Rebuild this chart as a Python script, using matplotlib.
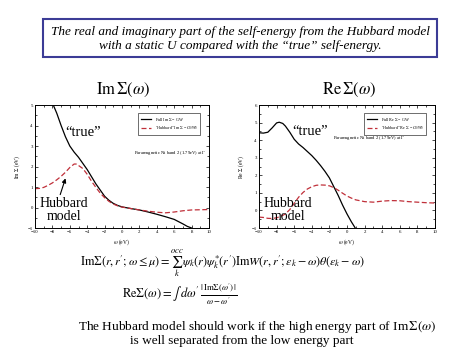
import matplotlib
matplotlib.use("Agg")
import matplotlib.pyplot as plt
from matplotlib.patches import Rectangle
from matplotlib.ticker import MultipleLocator

plt.rcParams['font.family'] = ['Liberation Serif', 'DejaVu Serif']
plt.rcParams['mathtext.fontset'] = 'stix'

# Im Sigma data (eV)
im_true_w = [-7.9, -7.5, -7.0, -6.5, -6.0, -5.5, -5.0, -4.5, -4.0, -3.5, -3.0, -2.5,
             -2.0, -1.5, -1.0, -0.5, 0.0, 1.0, 2.0, 3.0, 4.0, 5.0, 6.0, 7.0, 7.5, 8.0]
im_true = [5.0, 4.6, 4.0, 3.45, 3.0, 2.7, 2.45, 2.15, 1.85, 1.5, 1.15, 0.85,
           0.55, 0.35, 0.2, 0.1, 0.03, -0.05, -0.12, -0.22, -0.33, -0.45, -0.58, -0.8, -0.92, -1.0]
im_hub_w = [-10, -9.5, -9, -8.5, -8, -7.5, -7, -6.5, -6, -5.5, -5.2, -5, -4.5, -4, -3.5, -3,
            -2.5, -2, -1.5, -1, -0.5, 0, 1, 2, 3, 4, 5, 6, 7, 8, 9, 10]
im_hub = [0.92, 0.93, 0.98, 1.08, 1.2, 1.35, 1.52, 1.72, 1.95, 2.12, 2.12, 2.05, 1.9, 1.62, 1.28, 0.98,
          0.7, 0.48, 0.3, 0.17, 0.08, 0.02, -0.05, -0.12, -0.18, -0.23, -0.26, -0.22, -0.16, -0.12, -0.11, -0.1]

# Re Sigma data (eV)
re_true_w = [-10, -9.5, -9, -8.5, -8, -7.7, -7.3, -7, -6.5, -6, -5.5, -5, -4.5, -4, -3.5, -3,
             -2.5, -2, -1.5, -1, -0.5, 0, 0.5, 1.0]
re_true = [4.42, 4.4, 4.45, 4.7, 4.98, 5.02, 4.95, 4.8, 4.45, 4.05, 3.78, 3.58, 3.35, 3.12, 2.85, 2.55,
           2.22, 1.85, 1.35, 0.85, 0.3, -0.2, -0.65, -1.05]
re_hub_w = [-10, -9.5, -9, -8.5, -8, -7.5, -7, -6.5, -6, -5.5, -5, -4.5, -4, -3.5, -3, -2.5, -2,
            -1.5, -1, -0.5, 0, 0.5, 1, 2, 3, 4, 5, 6, 7, 8, 9, 10]
re_hub = [-0.38, -0.4, -0.45, -0.46, -0.42, -0.33, -0.2, 0.05, 0.4, 0.75, 1.02, 1.22, 1.35, 1.43, 1.45, 1.44, 1.4,
          1.3, 1.15, 0.98, 0.82, 0.7, 0.6, 0.5, 0.47, 0.53, 0.56, 0.55, 0.5, 0.47, 0.44, 0.42]

red = "#c0303a"
W, H = 474, 355
fig = plt.figure(figsize=(W / 100, H / 100), dpi=100)


def style_axes(ax, ylim, ylabel):
    ax.set_xlim(-10, 10)
    ax.set_ylim(*ylim)
    ax.xaxis.set_major_locator(MultipleLocator(2))
    ax.xaxis.set_minor_locator(MultipleLocator(1))
    ax.yaxis.set_major_locator(MultipleLocator(1))
    ax.yaxis.set_minor_locator(MultipleLocator(0.5))
    ax.tick_params(which="both", direction="in", top=True, right=True, labelsize=3.5, pad=1.5)
    ax.tick_params(which="major", length=2.5, width=0.5)
    ax.tick_params(which="minor", length=1.3, width=0.5)
    for s in ax.spines.values():
        s.set_linewidth(0.7)
    ax.set_xlabel(r"$\omega$ (eV)", fontsize=4, labelpad=2)
    ax.set_ylabel(ylabel, fontsize=4, labelpad=4)


# left panel: Im Sigma
ax1 = fig.add_axes([35 / W, 1 - 228 / H, 174 / W, 123 / H])
ax1.plot(im_true_w, im_true, color="black", lw=0.9, label=r"Full Im $\Sigma$ = GW")
ax1.plot(im_hub_w, im_hub, color=red, lw=0.9, ls=(0, (4, 2)), label=r'"Hubbard" Im $\Sigma$ = $G_0W_0$')
style_axes(ax1, (-1, 5), r"Im $\Sigma$ (eV)")
ax1.legend(loc="upper right", bbox_to_anchor=(0.96, 0.95), fontsize=3, frameon=True, fancybox=False,
           edgecolor="black", handlelength=2.5, borderpad=0.6, labelspacing=0.4).get_frame().set_linewidth(0.5)
ax1.text(0.57, 0.6, r"Paramagnetic Ni band 2 (1.79eV) at $\Gamma$", transform=ax1.transAxes, fontsize=3.3)

# right panel: Re Sigma
ax2 = fig.add_axes([259 / W, 1 - 228 / H, 176 / W, 123 / H])
ax2.plot(re_true_w, re_true, color="black", lw=0.9, label=r"Full Re $\Sigma$ = GW")
ax2.plot(re_hub_w, re_hub, color=red, lw=0.9, ls=(0, (4, 2)), label=r'"Hubbard" Re $\Sigma$ = $G_0W_0$')
style_axes(ax2, (-1, 6), r"Re $\Sigma$ (eV)")
ax2.legend(loc="upper right", bbox_to_anchor=(0.96, 0.95), fontsize=3, frameon=True, fancybox=False,
           edgecolor="black", handlelength=2.5, borderpad=0.6, labelspacing=0.4).get_frame().set_linewidth(0.5)
ax2.text(0.42, 0.72, r"Paramagnetic Ni band 2 (1.79eV) at $\Gamma$", transform=ax2.transAxes, fontsize=3.3)

# panel titles and labels on the slide
fig.text(123 / W, 1 - 90 / H, r"$\mathrm{Im}\,\Sigma(\omega)$", fontsize=12, ha="center", va="center")
fig.text(349 / W, 1 - 90 / H, r"$\mathrm{Re}\,\Sigma(\omega)$", fontsize=12, ha="center", va="center")
fig.text(83 / W, 1 - 133 / H, "\u201ctrue\u201d", fontsize=10.5, ha="center", va="center")
fig.text(310 / W, 1 - 132 / H, "\u201ctrue\u201d", fontsize=10.5, ha="center", va="center")
fig.text(64 / W, 1 - 210 / H, "Hubbard\nmodel", fontsize=10, ha="center", va="center", linespacing=0.95)
fig.text(288 / W, 1 - 210 / H, "Hubbard\nmodel", fontsize=10, ha="center", va="center", linespacing=0.95)
ax1.annotate("", xy=(-6.4, 1.55), xytext=(-7.2, 0.5),
             arrowprops=dict(arrowstyle="-|>", color="black", lw=0.8, mutation_scale=6))

# header box
fig.patches.append(Rectangle((43 / W, 1 - 57 / H), 394 / W, 38 / H, transform=fig.transFigure,
                             fill=False, edgecolor="#3c3c96", lw=1.5))
fig.text(240 / W, 1 - 32 / H, "The real and imaginary part of the self-energy from the Hubbard model",
         fontsize=9.5, style="italic", ha="center", va="center")
fig.text(240 / W, 1 - 46 / H, "with a static U compared with the \u201ctrue\u201d self-energy.",
         fontsize=9.5, style="italic", ha="center", va="center")

# equations and notes
fig.text(80 / W, 1 - 264 / H,
         r"$\mathrm{Im}\Sigma(r,r^{\prime};\omega\leq\mu)=\sum_{k}^{occ}\psi_k(r)\psi_k^{*}(r^{\prime})"
         r"\mathrm{Im}W(r,r^{\prime};\varepsilon_k-\omega)\theta(\varepsilon_k-\omega)$",
         fontsize=8.7, ha="left", va="center")
fig.text(122 / W, 1 - 294 / H,
         r"$\mathrm{Re}\Sigma(\omega)=\int\,d\omega^{\prime}\,\frac{|\,\mathrm{Im}\Sigma(\omega^{\prime})\,|}{\omega-\omega^{\prime}}$",
         fontsize=9, ha="left", va="center")
fig.text(78 / W, 1 - 327 / H,
         r"The Hubbard model should work if the high energy part of Im$\,\Sigma(\omega)$",
         fontsize=9.5, ha="left", va="center")
fig.text(130 / W, 1 - 341 / H, "is well separated from the low energy part",
         fontsize=9.5, ha="left", va="center")

fig.savefig("out.png", dpi=100)
